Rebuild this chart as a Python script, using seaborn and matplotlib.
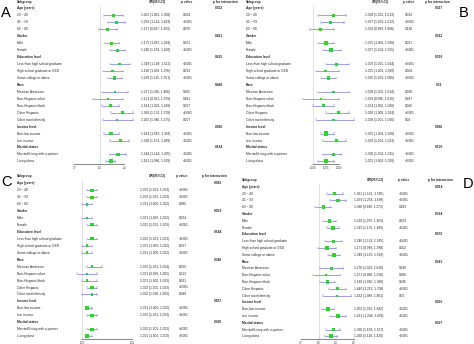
import matplotlib
matplotlib.use("Agg")
import matplotlib.pyplot as plt
import seaborn as sns
import numpy as np
import pandas as pd
from matplotlib.transforms import blended_transform_factory
from matplotlib.ticker import NullLocator, FixedLocator, FixedFormatter

sns.set_theme(style="white")
plt.rcParams['font.family'] = ['Liberation Sans', 'DejaVu Sans']

W, H = 474, 344

# ---------------- data ----------------
row_labels = ["Subgroup", "Age (years)", "20 ~ 40", "41 ~ 59", "60 ~ 80", "Gender", "Male", "Female",
              "Education level", "Less than high school graduate", "High school graduate or GED",
              "Some college or above", "Race", "Mexican American", "Non-Hispanic white",
              "Non-Hispanic black", "Other Hispanic", "Other race/ethnicity", "Income level",
              "Non-low income", "low income", "Marital status", "Married/Living with a partner",
              "Living alone"]
group_rows = [1, 5, 8, 12, 18, 21]
data_rows = [2, 3, 4, 6, 7, 9, 10, 11, 13, 14, 15, 16, 17, 19, 20, 22, 23]
header_labels = ["Subgroup", "OR(95%CI)", "p value", "p for interaction"]

or_A = [1.205, 1.259, 1.117, 1.175, 1.280, 1.318, 1.190, 1.228, 1.227, 1.121, 1.164, 1.368, 1.262, 1.164, 1.328, 1.284, 1.161]
lo_A = [1.061, 1.114, 0.987, 1.067, 1.156, 1.148, 1.038, 1.115, 1.026, 0.911, 1.028, 1.170, 1.046, 1.055, 1.153, 1.149, 1.086]
hi_A = [1.368, 1.423, 1.263, 1.294, 1.420, 1.512, 1.376, 1.351, 1.466, 1.379, 1.299, 1.578, 1.575, 1.303, 1.489, 1.435, 1.239]
p_A = ["0.004", "<0.001", "0.079", "0.001", "<0.001", "<0.001", "0.013", "<0.001", "0.025", "0.281", "0.017",
       "<0.001", "0.017", "<0.001", "<0.001", "<0.001", "<0.001"]
pint_A = ["0.352", "0.421", "0.635", "0.468", "0.066", "0.164"]

or_B = [1.008, 1.007, 1.003, 1.005, 1.007, 1.009, 1.005, 1.006, 1.008, 1.003, 1.004, 1.010, 1.008, 1.005, 1.009, 1.008, 1.005]
lo_B = [1.002, 1.003, 0.999, 1.002, 1.004, 1.005, 1.001, 1.003, 1.002, 0.996, 1.000, 1.005, 1.001, 1.003, 1.004, 1.004, 1.002]
hi_B = [1.013, 1.012, 1.008, 1.008, 1.011, 1.014, 1.010, 1.009, 1.014, 1.010, 1.008, 1.014, 1.016, 1.008, 1.013, 1.011, 1.008]
p_B = ["0.004", "<0.001", "0.138", "0.001", "<0.001", "<0.001", "0.024", "<0.001", "0.008", "0.347", "0.066",
       "<0.001", "0.03", "<0.001", "<0.001", "<0.001", "<0.001"]
pint_B = ["0.337", "0.912", "0.516", "0.32", "0.066", "0.156"]

or_C = [1.002, 1.002, 1.001, 1.001, 1.002, 1.002, 1.001, 1.001, 1.002, 1.001, 1.001, 1.002, 1.002, 1.001, 1.002, 1.002, 1.001]
lo_C = [1.001, 1.001, 1.000, 1.000, 1.001, 1.001, 1.000, 1.000, 1.001, 0.999, 1.000, 1.001, 1.000, 1.001, 1.001, 1.001, 1.001]
hi_C = [1.003, 1.003, 1.002, 1.002, 1.003, 1.003, 1.002, 1.002, 1.004, 1.003, 1.003, 1.003, 1.003, 1.002, 1.003, 1.003, 1.002]
p_C = ["<0.001", "<0.001", "0.095", "0.004", "<0.001", "<0.001", "0.017", "<0.001", "0.005", "0.213", "0.021",
       "<0.001", "0.048", "<0.001", "<0.001", "<0.001", "<0.001"]
pint_C = ["0.082", "0.059", "0.544", "0.348", "0.837", "0.360"]

or_D = [1.361, 1.459, 1.088, 1.229, 1.323, 1.340, 1.171, 1.348, 1.276, 1.157, 1.188, 1.440, 1.432, 1.203, 1.451, 1.330, 1.260]
lo_D = [1.161, 1.254, 0.930, 1.075, 1.176, 1.133, 0.988, 1.190, 1.013, 0.880, 1.010, 1.213, 1.088, 1.062, 1.244, 1.158, 1.118]
hi_D = [1.595, 1.698, 1.273, 1.405, 1.489, 1.585, 1.388, 1.518, 1.610, 1.520, 1.368, 1.708, 1.881, 1.342, 1.692, 1.527, 1.420]
p_D = ["<0.001", "<0.001", "0.293", "0.003", "<0.001", "<0.001", "0.062", "<0.001", "0.039", "0.286", "0.036",
       "<0.001", "0.01", "<0.001", "<0.001", "<0.001", "<0.001"]
pint_D = ["0.014", "0.324", "0.672", "0.241", "0.003", "0.307"]

ticks_A = [0.7, 1.0, 1.4]
ticks_B = [1.000, 1.005, 1.010]
ticks_C = [1.00, 1.01]
ticks_D = [0.7, 1.0, 1.4, 2.0]
tlab_A = ["0.7", "1.0", "1.4"]
tlab_B = ["1.000", "1.005", "1.010"]
tlab_C = ["1.00", "1.01"]
tlab_D = ["0.7", "1.0", "1.4", "2.0"]

# ---------------- layout (pixels) ----------------
panels = [
    dict(letter="A", letter_xy=(1, 13), row0=1.5, step=6.95, axis_y=164.3, label_x=17,
         or_x=141, or_head=157, p_x=183, p_head=187, pint_x=219, pint_head=225,
         fl=60, fr=140, scale="log", ref_px=100, k=72,
         vals=(or_A, lo_A, hi_A, p_A, pint_A), ticks=ticks_A, tlab=tlab_A),
    dict(letter="B", letter_xy=(459, 13), row0=1.5, step=6.95, axis_y=164.3, label_x=246,
         or_x=365, or_head=380, p_x=405, p_head=409, pint_x=439, pint_head=437,
         fl=295, fr=360, scale="linear", ref_px=313, k=2570,
         vals=(or_B, lo_B, hi_B, p_B, pint_B), ticks=ticks_B, tlab=tlab_B),
    dict(letter="C", letter_xy=(1, 182), row0=176.3, step=6.95, axis_y=339.2, label_x=17,
         or_x=140, or_head=157, p_x=179, p_head=182, pint_x=218, pint_head=214,
         fl=65, fr=140, scale="linear", ref_px=82, k=5000,
         vals=(or_C, lo_C, hi_C, p_C, pint_C), ticks=ticks_C, tlab=tlab_C),
    dict(letter="D", letter_xy=(463, 184), row0=180, step=6.8, axis_y=339.4, label_x=242,
         or_x=354, or_head=375, p_x=399, p_head=404, pint_x=439, pint_head=440,
         fl=290, fr=362, scale="log", ref_px=319, k=50.5,
         vals=(or_D, lo_D, hi_D, p_D, pint_D), ticks=ticks_D, tlab=tlab_D),
]

GREEN = "#22dd22"
BLUE = "#6a6ad8"
FS = 2.3

fig = plt.figure(figsize=(W / 100, H / 100), dpi=100)
fig.patch.set_facecolor("white")


def fx(px):
    return px / W


for P in panels:
    ors, los, his, ps, pints = P["vals"]
    top_px = P["row0"] - 0.5 * P["step"]
    bot_px = P["axis_y"]
    ax = fig.add_axes([fx(P["fl"]), 1 - bot_px / H, (P["fr"] - P["fl"]) / W, (bot_px - top_px) / H])
    ax.set_facecolor("none")
    ymax = (P["axis_y"] - P["row0"]) / P["step"]
    ax.set_ylim(ymax, -0.5)
    if P["scale"] == "log":
        ax.set_xscale("log")
        ax.set_xlim(np.exp((P["fl"] - P["ref_px"]) / P["k"]), np.exp((P["fr"] - P["ref_px"]) / P["k"]))
    else:
        ax.set_xlim(1 + (P["fl"] - P["ref_px"]) / P["k"], 1 + (P["fr"] - P["ref_px"]) / P["k"])

    df = pd.DataFrame({"row": data_rows, "or": ors, "lo": los, "hi": his})
    width = np.log(np.array(his)) - np.log(np.array(los))
    df["w"] = 1.0 / width

    ax.axvline(1.0, ymin=0, ymax=(ymax - 0.6) / (ymax + 0.5), color="#c8c8d8", lw=0.4, zorder=1)
    ax.hlines(df["row"], df["lo"], df["hi"], color=BLUE, lw=0.45, zorder=2)
    ax.vlines(df["lo"], df["row"] - 0.18, df["row"] + 0.18, color=BLUE, lw=0.35, zorder=2)
    ax.vlines(df["hi"], df["row"] - 0.18, df["row"] + 0.18, color=BLUE, lw=0.35, zorder=2)
    sns.scatterplot(data=df, x="or", y="row", size="w", sizes=(2.5, 9), marker="s",
                    color=GREEN, edgecolor="none", linewidth=0, legend=False, ax=ax, zorder=3)

    for s in ["top", "right", "left"]:
        ax.spines[s].set_visible(False)
    ax.spines["bottom"].set_linewidth(0.4)
    ax.spines["bottom"].set_color("#333333")
    ax.spines["bottom"].set_bounds(P["ticks"][0], P["ticks"][-1])
    ax.xaxis.set_major_locator(FixedLocator(P["ticks"]))
    ax.xaxis.set_major_formatter(FixedFormatter(P["tlab"]))
    ax.xaxis.set_minor_locator(NullLocator())
    ax.tick_params(axis="x", which="both", bottom=True, length=0.9, width=0.35, pad=0.3,
                   labelsize=1.8, colors="#333333")
    ax.set_yticks([])
    ax.set_xlabel("")
    ax.set_ylabel("")

    tr = blended_transform_factory(fig.transFigure, ax.transData)
    # header
    ax.text(fx(P["label_x"]), 0, header_labels[0], transform=tr, fontsize=FS, fontweight="bold",
            ha="left", va="center", clip_on=False)
    ax.text(fx(P["or_head"]), 0, header_labels[1], transform=tr, fontsize=FS, fontweight="bold",
            ha="center", va="center", clip_on=False)
    ax.text(fx(P["p_head"]), 0, header_labels[2], transform=tr, fontsize=FS, fontweight="bold",
            ha="center", va="center", clip_on=False)
    ax.text(fx(P["pint_head"]), 0, header_labels[3], transform=tr, fontsize=FS, fontweight="bold",
            ha="center", va="center", clip_on=False)
    # labels
    for r in range(1, len(row_labels)):
        bold = r in group_rows
        ax.text(fx(P["label_x"]), r, row_labels[r], transform=tr, fontsize=FS,
                fontweight="bold" if bold else "normal", ha="left", va="center", clip_on=False)
    for i, r in enumerate(data_rows):
        ax.text(fx(P["or_x"]), r, f"{ors[i]:.3f} ({los[i]:.3f}, {his[i]:.3f})", transform=tr,
                fontsize=FS, ha="left", va="center", clip_on=False)
        ax.text(fx(P["p_x"]), r, ps[i], transform=tr, fontsize=FS, ha="left", va="center", clip_on=False)
    for j, r in enumerate(group_rows):
        ax.text(fx(P["pint_x"]), r, pints[j], transform=tr, fontsize=FS, fontweight="bold",
                ha="center", va="center", clip_on=False)

    lx, ly = P["letter_xy"]
    fig.text(fx(lx), 1 - ly / H, P["letter"], fontsize=10.5, ha="left", va="center", color="black")

fig.savefig("out.png", dpi=100, facecolor="white")
